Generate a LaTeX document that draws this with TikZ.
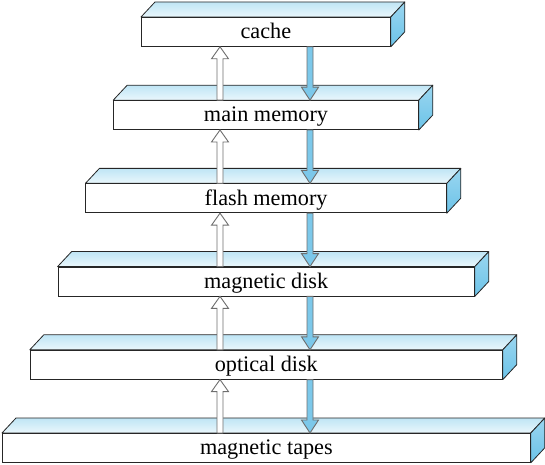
\documentclass[tikz,border=0pt]{standalone}
\usepackage{fontspec}
\setmainfont{Liberation Serif}
\usetikzlibrary{calc}
\definecolor{topback}{HTML}{BFE5F5}
\definecolor{topfront}{HTML}{EAF7FC}
\definecolor{sidetop}{HTML}{9AD6F0}
\definecolor{sidebot}{HTML}{6CC3E8}
\definecolor{downfill}{HTML}{7CC8EA}
\definecolor{arrline}{HTML}{6E6E6E}
\tikzset{
  front/.style={draw=black!85, line width=0.8bp, fill=white, rectangle, anchor=north west,
    minimum height=29bp, inner sep=0pt, text height=21bp, text depth=7.5bp,
    font=\fontsize{22.3}{24}\selectfont},
  topface/.style={draw=black!85, line width=0.8bp, top color=topback, bottom color=topfront, line join=round},
  sideface/.style={draw=black!85, line width=0.8bp, top color=sidetop, bottom color=sidebot, line join=round},
  uparr/.style={draw=arrline, fill=white, line width=0.9bp, line join=miter},
  downarr/.style={draw=arrline, fill=downfill, line width=0.9bp, line join=miter},
}
\newcommand{\mybox}[5]{% name, left, top, width, text
  \node[front, minimum width=#4bp] (#1) at (#2,#3) {#5};
  \path[topface] (#1.north west) -- ++(14,-15) -- ($(#1.north east)+(14,-15)$) -- (#1.north east) -- cycle;
  \path[sideface] (#1.north east) -- ++(14,-15) -- ($(#1.south east)+(14,-15)$) -- (#1.south east) -- cycle;
  \node[front, minimum width=#4bp] at (#2,#3) {#5};
}
\newcommand{\arrs}[2]{% upper, lower
  \path[uparr] let \p1=(#2.north), \p2=(#1.south) in
    ({220bp-3bp},\y1) -- ({220bp-3bp},{\y2-12bp}) -- ({220bp-8.5bp},{\y2-12bp}) -- (220bp,\y2)
    -- ({220bp+8.5bp},{\y2-12bp}) -- ({220bp+3bp},{\y2-12bp}) -- ({220bp+3bp},\y1) -- cycle;
  \path[downarr] let \p1=(#2.north), \p2=(#1.south) in
    ({310bp-3bp},\y2) -- ({310bp-3bp},{\y1+13bp}) -- ({310bp-8.5bp},{\y1+13bp}) -- (310bp,\y1)
    -- ({310bp+8.5bp},{\y1+13bp}) -- ({310bp+3bp},{\y1+13bp}) -- ({310bp+3bp},\y2) -- cycle;
}
\begin{document}
\begin{tikzpicture}[x=1bp,y=-1bp]
\useasboundingbox (0,0) rectangle (545,465);
\mybox{cache}{141}{17}{249}{cache}
\mybox{mainm}{113.2}{100.2}{304.8}{main memory}
\arrs{cache}{mainm}
\mybox{flash}{85.4}{183.4}{360.6}{flash memory}
\arrs{mainm}{flash}
\mybox{mdisk}{57.6}{266.6}{416.4}{magnetic disk}
\arrs{flash}{mdisk}
\mybox{odisk}{29.8}{349.8}{472.2}{optical disk}
\arrs{mdisk}{odisk}
\mybox{tapes}{2}{433}{528}{magnetic tapes}
\arrs{odisk}{tapes}
\end{tikzpicture}
\end{document}
